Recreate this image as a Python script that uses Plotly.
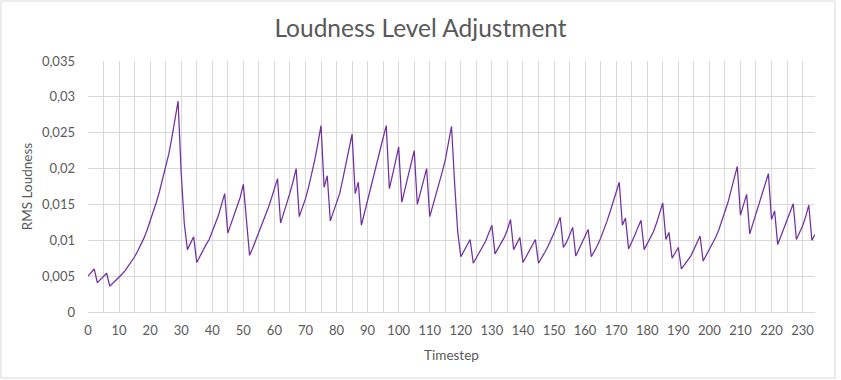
import plotly.graph_objects as go

timestep = list(range(235))
rms_loudness = [
    # 0-9
    0.0050, 0.0055, 0.0060, 0.0041, 0.0045, 0.0049, 0.0054, 0.0036, 0.0040, 0.0044,
    # 10-19
    0.0048, 0.0053, 0.0058, 0.0064, 0.0070, 0.0077, 0.0085, 0.0093, 0.0103, 0.0114,
    # 20-29
    0.0126, 0.0139, 0.0153, 0.0168, 0.0184, 0.0200, 0.0220, 0.0243, 0.0268, 0.0294,
    # 30-39
    0.0193, 0.0123, 0.0087, 0.0096, 0.0105, 0.0069, 0.0078, 0.0087, 0.0094, 0.0101,
    # 40-49
    0.0112, 0.0122, 0.0135, 0.0150, 0.0165, 0.0110, 0.0122, 0.0135, 0.0147, 0.0160,
    # 50-59
    0.0178, 0.0129, 0.0079, 0.0089, 0.0100, 0.0112, 0.0123, 0.0134, 0.0145, 0.0158,
    # 60-69
    0.0171, 0.0186, 0.0124, 0.0137, 0.0152, 0.0166, 0.0182, 0.0200, 0.0133, 0.0145,
    # 70-79
    0.0158, 0.0174, 0.0192, 0.0212, 0.0235, 0.0260, 0.0174, 0.0190, 0.0127, 0.0140,
    # 80-89
    0.0152, 0.0165, 0.0185, 0.0205, 0.0225, 0.0248, 0.0165, 0.0181, 0.0121, 0.0139,
    # 90-99
    0.0156, 0.0174, 0.0191, 0.0208, 0.0225, 0.0243, 0.0260, 0.0172, 0.0191, 0.0210,
    # 100-109
    0.0230, 0.0153, 0.0170, 0.0188, 0.0206, 0.0225, 0.0150, 0.0166, 0.0183, 0.0200,
    # 110-119
    0.0133, 0.0148, 0.0163, 0.0179, 0.0195, 0.0212, 0.0234, 0.0259, 0.0180, 0.0112,
    # 120-129
    0.0077, 0.0085, 0.0093, 0.0101, 0.0068, 0.0075, 0.0083, 0.0091, 0.0099, 0.0110,
    # 130-139
    0.0121, 0.0081, 0.0088, 0.0096, 0.0104, 0.0115, 0.0129, 0.0087, 0.0096, 0.0104,
    # 140-149
    0.0069, 0.0077, 0.0085, 0.0093, 0.0101, 0.0068, 0.0075, 0.0083, 0.0091, 0.0100,
    # 150-159
    0.0110, 0.0121, 0.0132, 0.0090, 0.0097, 0.0107, 0.0118, 0.0078, 0.0087, 0.0096,
    # 160-169
    0.0105, 0.0115, 0.0077, 0.0084, 0.0093, 0.0103, 0.0114, 0.0126, 0.0139, 0.0153,
    # 170-179
    0.0167, 0.0181, 0.0121, 0.0131, 0.0088, 0.0097, 0.0107, 0.0118, 0.0128, 0.0087,
    # 180-189
    0.0095, 0.0103, 0.0112, 0.0124, 0.0138, 0.0152, 0.0101, 0.0111, 0.0075, 0.0083,
    # 190-199
    0.0090, 0.0060, 0.0066, 0.0072, 0.0078, 0.0087, 0.0096, 0.0106, 0.0071, 0.0079,
    # 200-209
    0.0087, 0.0095, 0.0104, 0.0114, 0.0126, 0.0138, 0.0153, 0.0170, 0.0186, 0.0203,
    # 210-219
    0.0135, 0.0150, 0.0164, 0.0109, 0.0123, 0.0137, 0.0151, 0.0165, 0.0179, 0.0193,
    # 220-229
    0.0129, 0.0141, 0.0094, 0.0105, 0.0116, 0.0127, 0.0139, 0.0151, 0.0101, 0.0110,
    # 230-234
    0.0120, 0.0133, 0.0149, 0.0100, 0.0108,
]

y_tick_values = [0, 0.005, 0.01, 0.015, 0.02, 0.025, 0.03, 0.035]
y_tick_labels = ["0", "0,005", "0,01", "0,015", "0,02", "0,025", "0,03", "0,035"]
# gridlines every 5 timesteps, labels every 10
x_tick_values = list(range(0, 235, 5))
x_tick_labels = [str(v) if v % 10 == 0 else "" for v in x_tick_values]

FONT = "Lato, 'Open Sans', sans-serif"
GRID = "#D9D9D9"
TEXT = "#595959"

fig = go.Figure()
fig.add_trace(go.Scatter(
    x=timestep, y=rms_loudness, mode="lines",
    line=dict(color="#7030A0", width=1.25),
    hoverinfo="x+y", showlegend=False,
))

W, H = 841, 380
L, R, T, B = 88, 26, 61, 68
pw, ph = W - L - R, H - T - B

fig.update_layout(
    width=W, height=H,
    margin=dict(l=L, r=R, t=T, b=B),
    paper_bgcolor="white", plot_bgcolor="white",
    font=dict(family=FONT, color=TEXT, size=12),
    title=dict(text="Loudness Level Adjustment", x=0.5, xanchor="center",
               y=1 - 28 / H, yanchor="middle",
               font=dict(family=FONT, size=24.5, color=TEXT)),
    xaxis=dict(
        range=[0, 234], tickmode="array", tickvals=x_tick_values, ticktext=x_tick_labels,
        showgrid=True, gridcolor=GRID, gridwidth=1,
        showline=True, linecolor=GRID, linewidth=1, zeroline=False,
        ticks="", ticklabelstandoff=6, tickfont=dict(size=13, color=TEXT),
        title=dict(text="Timestep", font=dict(size=13.5, color=TEXT), standoff=13),
        automargin=False,
    ),
    yaxis=dict(
        range=[0, 0.035], tickmode="array", tickvals=y_tick_values, ticktext=y_tick_labels,
        showgrid=True, gridcolor=GRID, gridwidth=1, zeroline=False,
        showline=False, ticks="", ticklabelstandoff=12, tickfont=dict(size=13, color=TEXT),
        title=dict(text="RMS Loudness", font=dict(size=13.5, color=TEXT), standoff=6),
        automargin=False,
    ),
    shapes=[dict(
        type="rect", xref="paper", yref="paper", layer="below",
        x0=(1 - L) / pw, x1=(835 - L) / pw, y0=-(B - 2) / ph, y1=1 + (T - 1) / ph,
        line=dict(color=GRID, width=1), fillcolor="rgba(0,0,0,0)",
    )],
)

fig.write_html("out.html", config={"displayModeBar": False},
               post_script="document.body.style.margin='0';")
